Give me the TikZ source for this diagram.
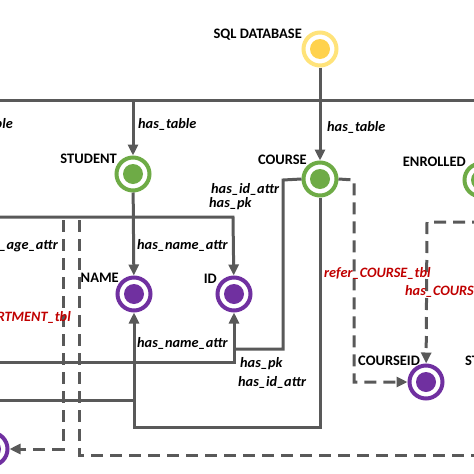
\documentclass[tikz,border=0pt]{standalone}
\usepackage{fontspec}
\setmainfont{Carlito}
\usetikzlibrary{arrows.meta}
\definecolor{lgray}{HTML}{595959}
\definecolor{gr}{HTML}{6EAB46}
\definecolor{pu}{HTML}{7030A0}
\definecolor{yring}{HTML}{FFE37A}
\definecolor{yfill}{HTML}{FFD24D}
\definecolor{rd}{HTML}{C00000}
\tikzset{
  ring/.style={circle,minimum size=33pt,inner sep=0pt,line width=4pt,draw=#1,fill=white,
    path picture={\fill[#1] (path picture bounding box.center) circle (10pt);}},
  yellownode/.style={circle,minimum size=33pt,inner sep=0pt,line width=4pt,draw=yring,fill=white,
    path picture={\fill[yfill] (path picture bounding box.center) circle (10pt);}},
  conn/.style={draw=lgray,line width=3pt},
  arr/.style={conn,-{Triangle[length=11pt,width=10pt]}},
  dconn/.style={conn,dash pattern=on 12pt off 7pt},
  darr/.style={dconn,-{Triangle[length=11pt,width=10pt]}},
  lab/.style={font=\fontsize{14.3}{16}\selectfont\bfseries\itshape,inner sep=0pt,text=black},
  rlab/.style={lab,text=rd},
  nlab/.style={font=\fontsize{14.5}{16}\selectfont\bfseries,inner sep=0pt,text=black},
}
\begin{document}
\begin{tikzpicture}[x=1pt,y=-1pt]
\useasboundingbox (0,0) rectangle (474,474);
\clip (0,0) rectangle (474,474);
% nodes
\node[yellownode] (sql) at (320,49) {};
\node[ring=gr] (student) at (133,174) {};
\node[ring=gr] (course) at (320,179) {};
\node[ring=gr] (enrolled) at (481,180) {};
\node[ring=pu] (name) at (134,294) {};
\node[ring=pu] (id) at (234,294) {};
\node[ring=pu] (courseid) at (426,382) {};
\node[ring=pu] (dept) at (-9,449) {};
% coordinates
\coordinate (hl) at (-10,100);
\coordinate (hr) at (484,100);
\coordinate (hs) at (133,100);
\coordinate (a1) at (-10,217);
\coordinate (a2) at (233,217);
\coordinate (b1) at (-10,362);
\coordinate (b2) at (234,362);
\coordinate (c1) at (-10,400);
\coordinate (c2) at (134,400);
\coordinate (d1) at (320,427);
\coordinate (d2) at (134,427);
\coordinate (e1) at (283,180);
\coordinate (e2) at (283,349);
\coordinate (e3) at (234,349);
\coordinate (f1) at (354,180);
\coordinate (f2) at (354,382);
\coordinate (g1) at (484,222);
\coordinate (g2) at (427,222);
\coordinate (p1) at (63,220);
\coordinate (p2) at (63,449);
\coordinate (q1) at (79,220);
\coordinate (q2) at (79,455);
\coordinate (q3) at (484,455);
% connectors
\draw[conn] (hl) -- (hr);
\draw[arr] (sql) -- (course);
\draw[arr] (hs) -- (student);
\draw[arr] (student) -- (name);
\draw[arr] (a1) -- (a2) -- (id);
\draw[arr] (b1) -- (b2) -- (id);
\draw[conn] (c1) -- (c2);
\draw[arr] (course) -- (d1) -- (d2) -- (name);
\draw[conn,line join=miter] (course.west) -- (e1) -- (e2) -- (e3);
\draw[darr] (course.east) -- (f1) -- (f2) -- (courseid);
\draw[darr] (g1) -- (g2) -- (courseid);
\draw[darr] (p1) -- (p2) -- (dept);
\draw[dconn] (q1) -- (q2) -- (q3);
% node labels
\node[nlab,anchor=east] (lsql) at (302,35) {SQL DATABASE};
\node[nlab,anchor=east] (lstu) at (117,159) {STUDENT};
\node[nlab,anchor=east] (lcou) at (307,160) {COURSE};
\node[nlab,anchor=east] (lenr) at (466,162) {ENROLLED};
\node[nlab,anchor=east] (lname) at (119,278) {NAME};
\node[nlab,anchor=east] (lid) at (217,279) {ID};
\node[nlab,anchor=west] (lcid) at (358,361) {COURSEID};
\node[nlab,anchor=west] (lst) at (465,361) {STUDENTID};
% edge labels
\node[lab,anchor=east] (t0) at (13,124) {has\_table};
\node[lab,anchor=west] (t1) at (138,124) {has\_table};
\node[lab,anchor=west] (t2) at (327,127) {has\_table};
\node[lab,anchor=west] (t3) at (211,189) {has\_id\_attr};
\node[lab,anchor=west] (t4) at (209,204) {has\_pk};
\node[lab,anchor=west] (t5) at (137,245) {has\_name\_attr};
\node[lab,anchor=east] (t6) at (58,246) {has\_age\_attr};
\node[rlab,anchor=east] (t7) at (71,317) {refer\_DEPARTMENT\_tbl};
\node[lab,anchor=west] (t8) at (137,343) {has\_name\_attr};
\node[lab,anchor=west] (t9) at (240,364) {has\_pk};
\node[lab,anchor=west] (t10) at (238,382) {has\_id\_attr};
\node[rlab,anchor=west] (t11) at (324,273) {refer\_COURSE\_tbl};
\node[rlab,anchor=west] (t12) at (405,291) {has\_COURSEID};
\end{tikzpicture}
\end{document}
